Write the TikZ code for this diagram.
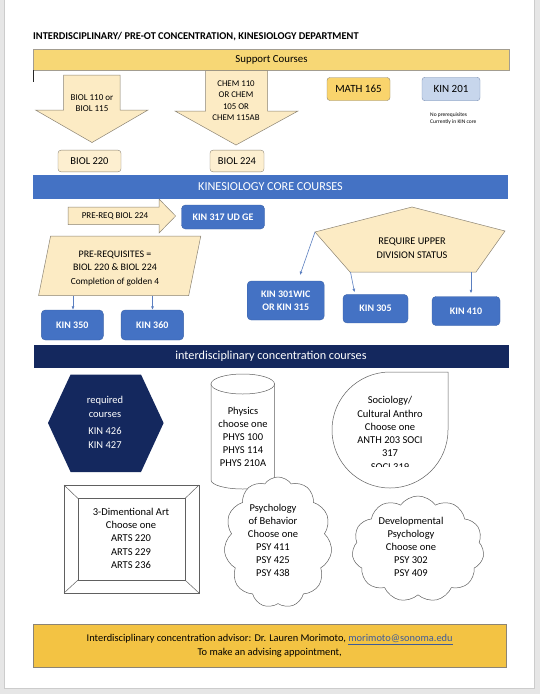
\documentclass[tikz,border=0pt]{standalone}
\usepackage{fontspec}
\setmainfont{Carlito}
\usetikzlibrary{shapes.symbols,arrows.meta}

\definecolor{pagegray}{HTML}{E6E6E6}
\definecolor{suppgold}{HTML}{F7D775}
\definecolor{mathgold}{HTML}{F9D46C}
\definecolor{advgold}{HTML}{F3C343}
\definecolor{cream}{HTML}{FCEBC4}
\definecolor{creamlight}{HTML}{FDEFD0}
\definecolor{boxedge}{HTML}{8C8474}
\definecolor{kinlight}{HTML}{C7D6EC}
\definecolor{kinedge}{HTML}{7F93B5}
\definecolor{kinblue}{HTML}{4472C4}
\definecolor{navy}{HTML}{14285E}
\definecolor{linkblue}{HTML}{5B7FC0}
\definecolor{mailblue}{HTML}{3F5C99}

\tikzset{
  band/.style={inner sep=0pt, minimum width=475pt, minimum height=23pt},
  suppband/.style={band, fill=suppgold, draw=boxedge!80, font=\fontsize{10.8}{12}\selectfont},
  coreband/.style={band, fill=kinblue, text=white, font=\fontsize{12.2}{13}\selectfont},
  conband/.style={band, fill=navy, text=white, font=\fontsize{12.2}{13}\selectfont},
  goldbox/.style={rounded corners=3pt, draw=boxedge, fill=mathgold, inner sep=0pt, font=\fontsize{11}{12}\selectfont},
  lightbox/.style={rounded corners=3pt, draw=kinedge, fill=kinlight, inner sep=0pt, font=\fontsize{11}{12}\selectfont},
  creambox/.style={rounded corners=3pt, draw=boxedge, fill=creamlight, inner sep=0pt, font=\fontsize{10.5}{12}\selectfont},
  kinbox/.style={rounded corners=4pt, fill=kinblue, draw=kinblue!85!black, text=white, inner sep=0pt, align=center, font=\bfseries\fontsize{10}{12.8}\selectfont},
  creamshape/.style={draw=boxedge, fill=cream, line width=0.5pt},
  outline/.style={draw=gray!75!black, line width=0.5pt, fill=white},
  label/.style={align=center, inner sep=0pt, font=\fontsize{10.5}{13}\selectfont},
  small/.style={align=center, inner sep=0pt, font=\fontsize{9}{10.8}\selectfont},
  link/.style={draw=linkblue, line width=0.6pt, -{Latex[length=3.5pt,width=3pt]}},
  puff/.style={cloud, cloud puffs=11, cloud puff arc=110, cloud ignores aspect, draw=gray!75!black, fill=white, line width=0.5pt, inner sep=0pt},
}

\begin{document}
\begin{tikzpicture}[x=1pt,y=-1pt]
\useasboundingbox (0,0) rectangle (540,694);
% 页面
\fill[pagegray] (0,0) rectangle (540,694);
\path[fill=white, draw=gray!40] (4,-2) rectangle (534,688);

% 标题
\node[anchor=west, inner sep=0pt, font=\bfseries\fontsize{10.4}{12}\selectfont] (title) at (33,36.5)
  {INTERDISCIPLINARY/ PRE-OT CONCENTRATION, KINESIOLOGY DEPARTMENT};

% 辅修课程
\node[suppband, minimum width=476pt, minimum height=21pt] (support) at (271.5,59.5) {Support Courses};
\draw[gray!30!black, line width=0.8pt] (33.4,70) -- (33.4,82);

\draw[creamshape] (63.5,75) -- (120,75) -- (120,110) -- (148,110) -- (92,142.5) -- (35.5,110) -- (63.5,110) -- cycle;
\node[small] (biolpre) at (92,103) {BIOL 110 or\\BIOL 115};
\draw[creamshape] (205.6,70.5) -- (267.6,70.5) -- (267.6,111) -- (298,111) -- (236,145) -- (175,111) -- (205.6,111) -- cycle;
\node[small, font=\fontsize{8.8}{11.3}\selectfont] (chempre) at (236,100.7) {CHEM 110\\OR CHEM\\105 OR\\CHEM 115AB};

\node[goldbox, minimum width=63pt, minimum height=23pt] (math165) at (358.5,89) {MATH 165};
\node[lightbox, minimum width=58pt, minimum height=23.5pt] (kin201) at (451,89) {KIN 201};
\node[anchor=west, align=left, inner sep=0pt, font=\fontsize{5.5}{7}\selectfont] (kinnote) at (430,118.5)
  {No prerequisites\\Currently in KIN core};

\node[creambox, minimum width=63pt, minimum height=21.7pt] (biol220) at (89.5,161) {BIOL 220};
\node[creambox, minimum width=54pt, minimum height=21.7pt] (biol224) at (237,161) {BIOL 224};

% 核心课程
\node[coreband, minimum height=24pt] (core) at (270.5,187) {KINESIOLOGY CORE COURSES};

\draw[creamshape] (68,207) -- (159,207) -- (159,199) -- (175.6,216) -- (159,233) -- (159,224.5) -- (68,224.5) -- cycle;
\node[small] (prereq) at (115,216) {PRE-REQ BIOL 224};
\node[kinbox, minimum width=83pt, minimum height=24pt] (kin317) at (223,217) {KIN 317 UD GE};

\draw[creamshape] (50.6,236) -- (200.8,236) -- (188.7,295.5) -- (38.6,295.5) -- cycle;
\node[label, font=\fontsize{10}{13.3}\selectfont] (bothbiol) at (115,268.3)
  {PRE-REQUISITES =\\BIOL 220 \& BIOL 224\\{\fontsize{9.3}{10}\selectfont Completion of golden 4}};
\coordinate (pa) at (73,295.5);
\coordinate (pb) at (152.5,295.5);
\node[kinbox, minimum width=62pt, minimum height=30pt] (kin350) at (72.3,325) {KIN 350};
\node[kinbox, minimum width=62.5pt, minimum height=30pt] (kin360) at (152.3,325) {KIN 360};
\draw[link] (pa) -- (kin350.north -| pa);
\draw[link] (pb) -- (kin360.north -| pb);

\draw[creamshape] (412,207) -- (505,231) -- (476,272) -- (350,272) -- (315,232) -- cycle;
\node[label, font=\fontsize{10.3}{13.5}\selectfont] (upper) at (412,248) {REQUIRE UPPER\\DIVISION STATUS};
\coordinate (ul) at (315,232);
\coordinate (ub) at (350.5,272);
\coordinate (ur) at (471,272);
\coordinate (ulend) at (300,275);
\node[kinbox, minimum width=77pt, minimum height=39pt] (kin301) at (285.7,300.5) {KIN 301WIC\\OR KIN 315};
\node[kinbox, minimum width=65pt, minimum height=28.5pt] (kin305) at (375.5,308.7) {KIN 305};
\node[kinbox, minimum width=68pt, minimum height=29pt] (kin410) at (466,311) {KIN 410};
\draw[link] (ul) -- (ulend);
\draw[link] (ub) -- ([xshift=-21pt,yshift=2pt]kin305.north);
\draw[link] (ur) -- ([yshift=3pt]kin410.north -| ur);

% 跨学科课程
\node[conband] (conc) at (271,356) {interdisciplinary concentration courses};

\fill[navy] (48,423) -- (70.6,374.5) -- (141,374.5) -- (163.6,423) -- (141,472) -- (70.6,472) -- cycle;
\node[label, text=white, font=\fontsize{10.5}{13.5}\selectfont] (required) at (105,422.4)
  {required\\courses\\[4pt]KIN 426\\KIN 427};

% 圆柱
\path[outline] (211,384) -- (211,480) arc[start angle=180, end angle=360, x radius=31.75pt, y radius=9pt] -- (274.5,384) -- cycle;
\draw[outline] (242.75,384) ellipse [x radius=31.75pt, y radius=10pt];
\node[label] (physics) at (243,437.3) {Physics\\choose one\\PHYS 100\\PHYS 114\\PHYS 210A};

% 水滴
\path[outline] (390,372) arc[start angle=90, end angle=360, radius=58pt] -- (448,372) -- cycle;
\begin{scope}
  \clip (330,390) rectangle (450,466.5);
  \node[label, font=\fontsize{10.5}{13.3}\selectfont] (socio) at (390,433.4)
    {Sociology/\\Cultural Anthro\\Choose one\\ANTH 203 SOCI\\317\\SOCI 319};
\end{scope}

% 斜面框
\draw[outline] (64,485) rectangle (199,593);
\draw[outline] (78,498.5) rectangle (185,580);
\draw[gray!75!black, line width=0.5pt] (64,485) -- (78,498.5) (199,485) -- (185,498.5)
  (64,593) -- (78,580) (199,593) -- (185,580);
\node[label, font=\fontsize{10.5}{13.4}\selectfont] (arts) at (131,538.2)
  {3-Dimentional Art\\Choose one\\ARTS 220\\ARTS 229\\ARTS 236};

% 云
\node[puff, minimum width=108pt, minimum height=131pt] (psycloud) at (278,542.5) {};
\node[label] (behavior) at (273,540.6) {Psychology\\of Behavior\\Choose one\\PSY 411\\PSY 425\\PSY 438};
\node[puff, minimum width=132pt, minimum height=106pt] (devcloud) at (418,549) {};
\node[label] (develop) at (411,546.5) {Developmental\\Psychology\\Choose one\\PSY 302\\PSY 409};

% 导师
\node[fill=advgold, draw=boxedge, minimum width=472.6pt, minimum height=43pt, inner sep=0pt,
  align=center, font=\fontsize{10.4}{13.8}\selectfont] (advisor) at (269.7,645.5)
  {Interdisciplinary concentration advisor: Dr. Lauren Morimoto, {\color{mailblue}\underline{morimoto@sonoma.edu}}\\To make an advising appointment,};
\end{tikzpicture}
\end{document}
